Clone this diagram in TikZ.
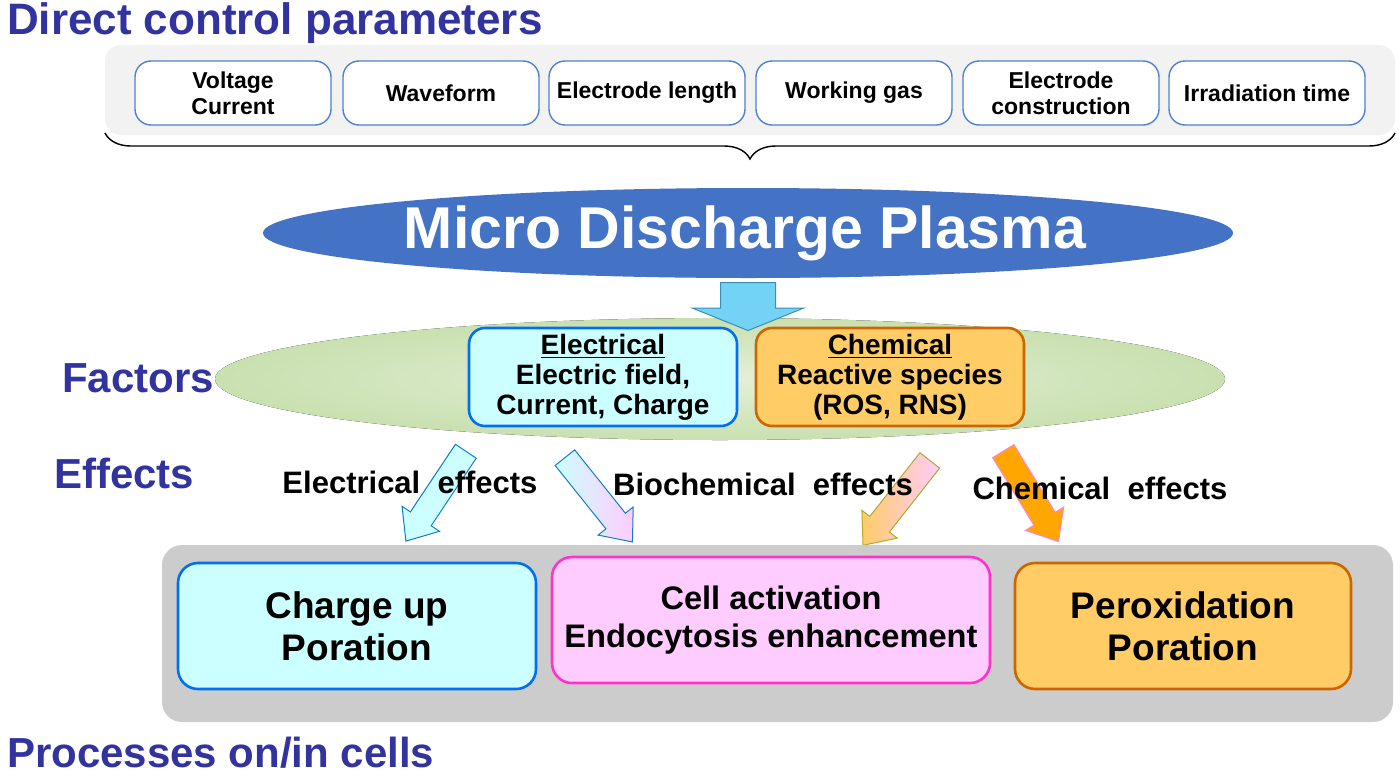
\documentclass[tikz,border=0pt]{standalone}
\usepackage{fontspec}
\setmainfont{Liberation Sans}
\usepackage{tikz}
\usetikzlibrary{positioning, shapes.arrows, shapes.geometric, decorations.pathreplacing}
\definecolor{titleblue}{HTML}{3333A0}
\definecolor{plasmablue}{HTML}{4472C4}
\definecolor{boxblue}{HTML}{4F81D0}
\definecolor{elecfill}{HTML}{CCFFFF}
\definecolor{elecdraw}{HTML}{0070F0}
\definecolor{chemfill}{HTML}{FFCC66}
\definecolor{chemdraw}{HTML}{CC6600}
\definecolor{biofill}{HTML}{FFCCFF}
\definecolor{biodraw}{HTML}{FF33CC}
\definecolor{leafgreen}{HTML}{C9E0B0}

\begin{document}
\begin{tikzpicture}[x=0.5pt, y=-0.5pt, font=\bfseries]
		\tikzstyle{heading} = [text=titleblue, anchor=west, font=\fontsize{21}{24}\selectfont\bfseries]
		\tikzstyle{param} = [draw=boxblue, fill=white, rounded corners=8pt, line width=0.7pt, minimum width=98pt, minimum height=32pt, align=center, inner sep=1pt, font=\fontsize{11.5}{13}\selectfont\bfseries]
		\tikzstyle{factor} = [rounded corners=8pt, line width=1.3pt, minimum width=134pt, minimum height=49pt, align=center, inner sep=1pt, font=\fontsize{14}{15}\selectfont\bfseries]
		\tikzstyle{process} = [rounded corners=10pt, line width=1.3pt, minimum height=63pt, align=center]
		\tikzstyle{fat} = [single arrow, draw, minimum width=22pt, single arrow head extend=5pt, single arrow tip angle=80, inner xsep=0pt, inner ysep=6pt, line width=0.5pt]
		\tikzstyle{effect} = [font=\fontsize{15.5}{18}\selectfont\bfseries]
		
		\useasboundingbox (0,0) rectangle (1400,776);
		
		\node[heading, font=\fontsize{22}{25}\selectfont\bfseries]	at (0, 23)		(direct) 	{Direct control parameters};
		\node[heading]	at (55, 378)	(factors)	{Factors};
		\node[heading]	at (47, 473)	(effects)	{Effects};
		\node[heading]	at (0, 753)		(processes)	{Processes on/in cells};
		
		\fill[gray!10, rounded corners=8pt] (105, 45) rectangle (1395, 135);
		\draw[decorate, decoration={brace, mirror, amplitude=13pt}, line width=0.7pt] (105, 133) -- (1395, 133);
		
		\node[param]	at (233, 93)	(volt)	{Voltage\\Current};
		\node[param]	at (441, 93)	(wave)	{Waveform};
		\node[param]	at (647, 93)	(elen)	{Electrode length};
		\node[param]	at (854, 93)	(gas)	{Working gas};
		\node[param]	at (1061, 93)	(econ)	{Electrode\\construction};
		\node[param]	at (1267, 93)	(irr)	{Irradiation time};
		
		\fill[plasmablue] (748, 233) ellipse [x radius=485, y radius=45];
		\node[text=white, font=\fontsize{29.5}{32}\selectfont\bfseries]	at (745, 233)	(plasma)	{Micro Discharge Plasma};
		
		\fill[inner color=leafgreen!50, outer color=leafgreen] (720, 379) ellipse [x radius=505, y radius=61];
		\node[fat, fill=cyan!55, draw=cyan!70!black, minimum height=24pt, rotate=-90, inner ysep=13.5pt, single arrow head extend=14pt, single arrow tip angle=136]	at (748, 301)	(down)	{};
		
		\node[factor, fill=elecfill, draw=elecdraw]	at (603, 377)	(elec)	{\underline{Electrical}\\Electric field,\\Current, Charge};
		\node[factor, fill=chemfill, draw=chemdraw]	at (890, 377)	(chem)	{\underline{Chemical}\\Reactive species\\(ROS, RNS)};
		
		\node[fat, fill=elecfill, draw=cyan!60!blue, minimum height=54pt, rotate=236.3]	at (440, 490)	(a1)	{};
		\node[fat, left color=elecfill, right color=biofill, draw=cyan!60!blue, minimum height=54pt, rotate=-51.3]	at (594, 494)	(a2)	{};
		\node[fat, left color=chemfill, right color=biofill, draw=olive!70, minimum height=54pt, rotate=231.8]	at (901, 497)	(a3)	{};
		\node[fat, fill=orange!70!yellow, draw=biodraw!60, minimum height=53pt, rotate=-58.6]	at (1027, 490)	(a4)	{};
		
		\node[effect]	at (410, 482)	(eleff)	{Electrical~ effects};
		\node[effect]	at (763, 484)	(bioeff)	{Biochemical~ effects};
		\node[effect]	at (1100, 488)	(chemeff)	{Chemical~ effects};
		
		\fill[gray!40, rounded corners=10pt] (162, 545) rectangle (1393, 722);
		\node[process, fill=elecfill, draw=elecdraw, minimum width=179pt, font=\fontsize{18.5}{21}\selectfont\bfseries]	at (357, 626)	(charge)	{Charge up\\Poration};
		\node[process, fill=biofill, draw=biodraw, minimum width=219pt, font=\fontsize{16.3}{19}\selectfont\bfseries]	at (771, 620)	(cell)	{Cell activation\\Endocytosis enhancement};
		\node[process, fill=chemfill, draw=chemdraw, minimum width=168pt, font=\fontsize{18.5}{21}\selectfont\bfseries]	at (1183, 626)	(perox)	{Peroxidation\\Poration};
	\end{tikzpicture}
\end{document}
